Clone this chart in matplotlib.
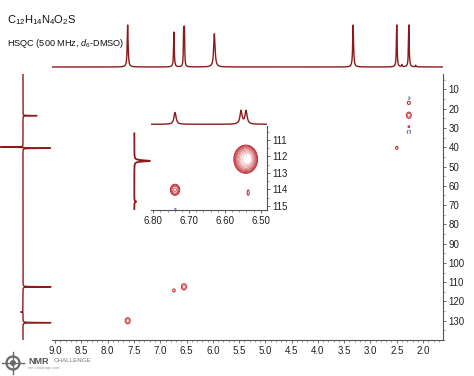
import numpy as np
import matplotlib
matplotlib.use("Agg")
import matplotlib.pyplot as plt
from matplotlib.ticker import MultipleLocator, FormatStrFormatter
from matplotlib.patches import Circle

plt.rcParams['font.family'] = ['Liberation Sans', 'DejaVu Sans']
plt.rcParams['mathtext.fontset'] = 'custom'
plt.rcParams['mathtext.rm'] = 'Liberation Sans'
plt.rcParams['mathtext.it'] = 'Liberation Sans:italic'

# ---------------- data ----------------
title_formula = r"C$_{12}$H$_{14}$N$_{4}$O$_{2}$S"
title_exp = r"HSQC (500 MHz, $\mathit{d}_{6}$-DMSO)"

# 1H projection (top)
h_ppm = [7.62, 6.74, 6.555, 6.540, 5.97, 3.33, 2.50, 2.40, 2.27, 2.14]
h_int = [1.0, 0.83, 0.85, 0.85, 0.79, 1.0, 1.0, 0.05, 1.0, 0.04]
h_hw = [0.010, 0.008, 0.006, 0.006, 0.016, 0.010, 0.008, 0.008, 0.008, 0.008]

# 13C projection (left)
c_ppm = [23.6, 40.5, 39.9, 112.4, 125.5, 131.0]
c_int = [0.5, 1.0, -0.82, 1.0, -0.08, 1.0]

# 2D cross peaks (main)
xp_h = [7.62, 6.55, 6.74, 2.27, 2.27, 2.27, 2.27, 2.27, 2.50]
xp_c = [130.0, 112.4, 114.3, 23.4, 16.8, 14.7, 29.4, 32.0, 40.3]
xp_a = [1.0, 1.0, 0.35, 1.0, 0.45, -0.35, 0.3, -0.45, 0.35]

# inset 1H projection
ih_ppm = [6.739, 6.555, 6.541]
ih_int = [0.83, 0.93, 0.93]

# inset 13C projection
ic_ppm = [112.27, 114.75]
ic_int = [1.0, 0.12]

# inset cross peaks
ip_h = [6.542, 6.533, 6.739, 6.535, 6.739]
ip_c = [112.17, 112.12, 114.03, 114.2, 115.2]
ip_a = [1.0, 0.8, 0.16, 0.07, -0.07]
ip_sx = [0.0135, 0.006, 0.0085, 0.0035, 0.004]
ip_sy = [0.35, 0.22, 0.22, 0.2, 0.05]

xticks_main = [9.0, 8.5, 8.0, 7.5, 7.0, 6.5, 6.0, 5.5, 5.0, 4.5, 4.0, 3.5, 3.0, 2.5, 2.0]
yticks_main = [10, 20, 30, 40, 50, 60, 70, 80, 90, 100, 110, 120, 130]
xticks_ins = [6.80, 6.70, 6.60, 6.50]
yticks_ins = [111, 112, 113, 114, 115]

# ---------------- helpers ----------------
W, H = 474, 376
SPEC = '#8b1a1a'


def frac(x0, y0, x1, y1):
    return [x0 / W, 1 - y1 / H, (x1 - x0) / W, (y1 - y0) / H]


def lorentz(x, pos, amp, hw):
    out = np.zeros_like(x)
    for p, a, w in zip(pos, amp, hw):
        out += a * w ** 2 / ((x - p) ** 2 + w ** 2)
    return out


fig = plt.figure(figsize=(W / 100, H / 100), dpi=100)

XL = (9.06, 1.62)
YL = (140.0, 2.0)

# ---------------- main 2D ----------------
ax = fig.add_axes(frac(52, 74, 443, 340))
ax.set_xlim(*XL)
ax.set_ylim(*YL)
gx = np.linspace(1.62, 9.06, 1600)
gy = np.linspace(2, 140, 900)
GX, GY = np.meshgrid(gx, gy)
Z = np.zeros_like(GX)
for h, c, a in zip(xp_h, xp_c, xp_a):
    Z += a * np.exp(-((GX - h) / 0.028) ** 2 / 2 - ((GY - c) / 0.95) ** 2 / 2)
ax.contour(GX, GY, Z, levels=[0.25, 0.6],
           colors=['#c0303a', '#e07078'], linewidths=0.8)
ax.contour(GX, GY, Z, levels=[-0.25],
           colors=['#6868cc'], linewidths=0.8)
for s in ['top', 'left']:
    ax.spines[s].set_visible(False)
for s in ['bottom', 'right']:
    ax.spines[s].set_color('#555555')
    ax.spines[s].set_linewidth(0.8)
ax.yaxis.tick_right()
ax.set_xticks(xticks_main)
ax.xaxis.set_major_formatter(FormatStrFormatter('%.1f'))
ax.xaxis.set_minor_locator(MultipleLocator(0.1))
ax.set_yticks(yticks_main)
ax.yaxis.set_minor_locator(MultipleLocator(5))
ax.tick_params(axis='both', which='major', labelsize=7, length=2.5, width=0.6,
               color='#555555', labelcolor='#222222', pad=1.5)
ax.tick_params(axis='both', which='minor', length=1.5, width=0.5, color='#777777')
ax.patch.set_alpha(0)

# ---------------- top projection ----------------
axt = fig.add_axes(frac(52, 22, 443, 70))
hx = np.linspace(1.62, 9.06, 8000)
hy = lorentz(hx, h_ppm, h_int, h_hw)
axt.plot(hx, hy, color=SPEC, lw=1.0)
axt.set_xlim(*XL)
axt.set_ylim(-0.0714, 1.071)
axt.axis('off')

# ---------------- left projection ----------------
axl = fig.add_axes(frac(0, 74, 52, 340))
cy = np.linspace(2, 140, 12000)
cx = lorentz(cy, c_ppm, c_int, [0.08] * len(c_ppm))
axl.plot(cx, cy, color=SPEC, lw=1.0)
axl.set_xlim(-0.821, 1.036)
axl.set_ylim(*YL)
axl.axis('off')

# ---------------- inset ----------------
IXL = (6.806, 6.484)
IYL = (115.26, 110.15)
axi = fig.add_axes(frac(151, 126, 266.5, 210))
axi.set_facecolor('white')
ix = np.linspace(6.484, 6.806, 500)
iy = np.linspace(110.15, 115.26, 600)
IX, IY = np.meshgrid(ix, iy)
IZ = np.zeros_like(IX)
for h, c, a, sx, sy in zip(ip_h, ip_c, ip_a, ip_sx, ip_sy):
    IZ += a * np.exp(-((IX - h) / sx) ** 2 / 2 - ((IY - c) / sy) ** 2 / 2)
lev = list(0.05 * 1.42 ** np.arange(9))
cols = plt.cm.colors.LinearSegmentedColormap.from_list('r', ['#b8202a', '#f2c4c8'])(np.linspace(0, 1, len(lev)))
axi.contour(IX, IY, IZ, levels=lev, colors=cols, linewidths=0.7)
axi.contour(IX, IY, IZ, levels=[-0.05], colors=['#7070d0'], linewidths=0.6)
axi.set_xlim(*IXL)
axi.set_ylim(*IYL)
for s in ['top', 'left']:
    axi.spines[s].set_visible(False)
for s in ['bottom', 'right']:
    axi.spines[s].set_color('#555555')
    axi.spines[s].set_linewidth(0.8)
axi.yaxis.tick_right()
axi.set_xticks(xticks_ins)
axi.xaxis.set_major_formatter(FormatStrFormatter('%.2f'))
axi.xaxis.set_minor_locator(MultipleLocator(0.02))
axi.set_yticks(yticks_ins)
axi.yaxis.set_minor_locator(MultipleLocator(0.5))
axi.tick_params(axis='both', which='major', labelsize=7, length=2.5, width=0.6,
                color='#555555', labelcolor='#222222', pad=1.5)
axi.tick_params(axis='both', which='minor', length=1.5, width=0.5, color='#777777')

# inset top projection
axit = fig.add_axes(frac(151, 108, 266.5, 127))
ihx = np.linspace(6.484, 6.806, 2000)
ihy = lorentz(ihx, ih_ppm, ih_int, [0.0035] * len(ih_ppm))
axit.plot(ihx, ihy, color=SPEC, lw=1.0)
axit.set_xlim(*IXL)
axit.set_ylim(-0.189, 1.14)
axit.axis('off')

# inset left projection
axil = fig.add_axes(frac(120, 126, 152, 210))
icy = np.linspace(110.6, 115.2, 2000)
icx = lorentz(icy, ic_ppm, ic_int, [0.04, 0.04])
axil.plot(icx, icy, color=SPEC, lw=1.3)
axil.set_xlim(-0.911, 1.127)
axil.set_ylim(*IYL)
axil.axis('off')

# ---------------- titles ----------------
fig.text(7 / W, 1 - 20 / H, title_formula, fontsize=8, va='center', ha='left', color='#111111')
fig.text(7 / W, 1 - 43 / H, title_exp, fontsize=6.6, va='center', ha='left', color='#111111')

# ---------------- logo ----------------
axg = fig.add_axes(frac(0, 349, 40, 376))
axg.set_xlim(0, 40)
axg.set_ylim(27, 0)
axg.set_aspect('equal')
axg.axis('off')
axg.add_patch(Circle((13, 14), 6.5, fill=False, ec='#6a6a6a', lw=1.6))
axg.add_patch(Circle((13, 14), 3.0, fill=True, fc='#6a6a6a', ec='none'))
axg.plot([13, 13], [3, 25], color='#6a6a6a', lw=1.0)
axg.plot([2, 24], [14, 14], color='#6a6a6a', lw=1.0)
fig.text(28 / W, 1 - 361 / H, 'NMR', fontsize=6.5, fontweight='bold', color='#555555',
         va='center', ha='left')
fig.text(54 / W, 1 - 361 / H, 'CHALLENGE', fontsize=4.5, color='#777777',
         va='center', ha='left', fontstretch='condensed')
fig.text(28 / W, 1 - 368.5 / H, 'nmr-challenge.com', fontsize=2.8, color='#999999',
         va='center', ha='left')

fig.savefig('out.png', dpi=100)
